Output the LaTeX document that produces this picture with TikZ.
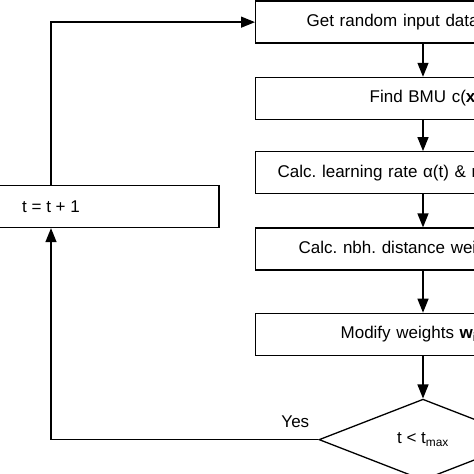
\documentclass[tikz,border=0pt]{standalone}
\usepackage{fontspec}
\setmainfont{Liberation Sans}
\usetikzlibrary{arrows.meta,positioning,shapes.geometric}
\frenchspacing

\begin{document}
\begin{tikzpicture}[x=1pt,y=1pt,>={Triangle[length=14pt,width=11pt]},
  every node/.style={font=\fontsize{17}{20}\selectfont},
  stepbox/.style={draw, line width=1.3pt, rectangle, minimum height=42pt, text width=420pt, align=left, anchor=north west},
  flow/.style={->, line width=1.3pt}]
  \useasboundingbox (0,0) rectangle (474,474);
  % Nodes
  \node[stepbox, inner xsep=51pt] (getdata) at (255,473.5) {Get random input data};
  \node[stepbox, inner xsep=114pt, below right=33pt and 0pt of getdata.south west] (bmu) {Find BMU c(\textbf{x})};
  \node[stepbox, inner xsep=22pt, below right=31pt and 0pt of bmu.south west] (rate) {Calc. learning rate α(t) \& nbh. radius σ(t)};
  \node[stepbox, inner xsep=43pt, below right=33pt and 0pt of rate.south west] (dist) {Calc. nbh. distance weights h\textsubscript{ci}(t)};
  \node[stepbox, inner xsep=85pt, below right=42pt and 0pt of dist.south west] (modify) {Modify weights \textbf{w}\textsubscript{i}(t + 1)};
  \node[draw, diamond, line width=1.3pt, inner sep=0pt, aspect=2.57, minimum width=208pt, minimum height=81pt, below=42.5pt of modify.south west, xshift=168pt] (cond) {t < t\textsubscript{max}};
  
  \node[draw, rectangle, line width=1.3pt, minimum width=336pt, minimum height=42pt] (inc) at (51,267.5) {t = t + 1};
  
  % Arrows
  \draw[flow] (getdata.south -| cond.north) -- (bmu.north -| cond.north);
  \draw[flow] (bmu.south -| cond.north) -- (rate.north -| cond.north);
  \draw[flow] (rate.south -| cond.north) -- (dist.north -| cond.north);
  \draw[flow] (dist.south -| cond.north) -- (modify.north -| cond.north);
  \draw[flow] (modify.south -| cond.north) -- (cond.north);
  \draw[flow] (cond.west) -| node[pos=0.043, above=8pt] {Yes} (inc.south);
  \draw[flow] (inc.north) |- (getdata.west);
\end{tikzpicture}
\end{document}
